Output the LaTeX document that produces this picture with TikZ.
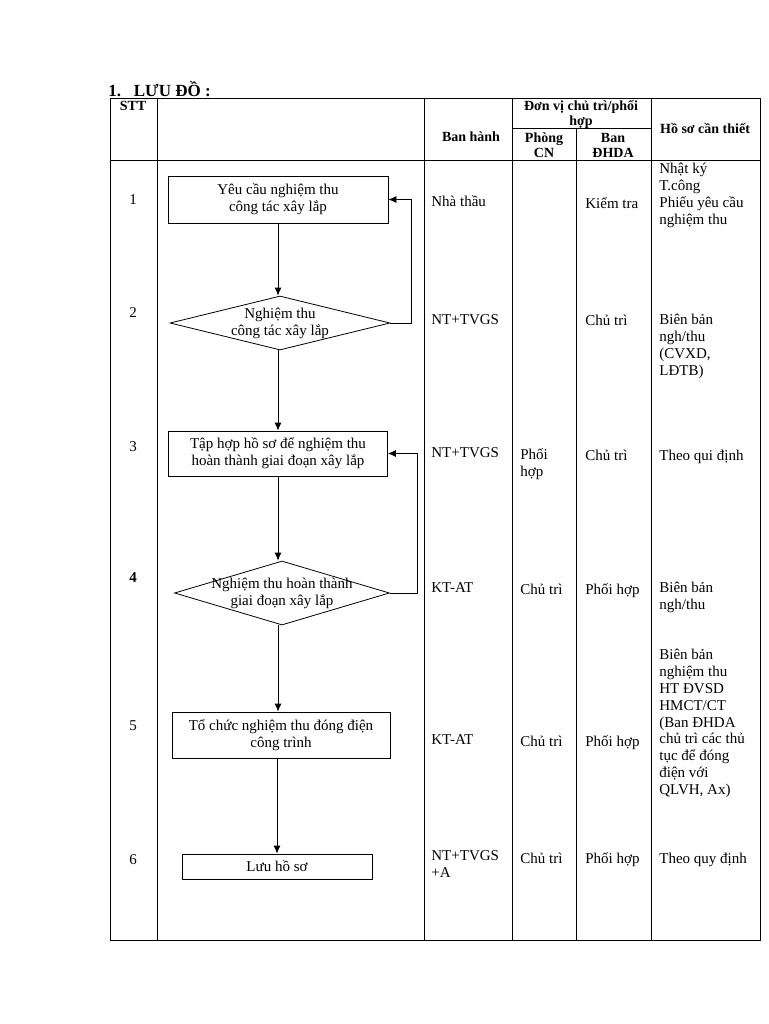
\documentclass[tikz,border=0pt]{standalone}
\usepackage{fontspec}
\setmainfont{Liberation Serif}
\usetikzlibrary{positioning,shapes.geometric,arrows.meta}

\begin{document}
\begin{tikzpicture}[x=1pt, y=-1pt, line width=0.8pt, >={Latex[length=8pt,width=7pt]},
    every node/.style={font=\fontsize{15}{16.8}\selectfont},
    taskbox/.style={draw, rectangle, align=center, inner sep=0pt},
    checkbox/.style={draw, diamond, minimum width=220pt, minimum height=54pt, inner sep=0pt},
    cell/.style={anchor=north west, align=left, inner sep=0pt, execute at begin node={\strut}},
    head/.style={font=\fontsize{14}{15}\selectfont\bfseries, align=center, inner sep=0pt}]

            \useasboundingbox (0,0) rectangle (768,1024);

            % title and table
            \node[head, anchor=west, font=\fontsize{17}{18}\selectfont\bfseries] (title) at (108,89) {1.\ \ \ LƯU ĐỒ :};
            \draw (110,98) rectangle (760,940);
            \draw (157,98) -- (157,940);
            \draw (424,98) -- (424,940);
            \draw (512,98) -- (512,940);
            \draw (651,98) -- (651,940);
            \draw (576,128) -- (576,940);
            \draw (512,128) -- (651,128);
            \draw (110,160) -- (760,160);

            \node[head] (stt) at (133,106) {STT};
            \node[head] (banhanh) at (471,137) {Ban hành};
            \node[head] (donvi) at (581,114.5) {Đơn vị chủ trì/phối\\hợp};
            \node[head] (phong) at (544,145) {Phòng\\CN};
            \node[head] (bandhda) at (613,145) {Ban\\ĐHDA};
            \node[head] (hoso) at (705,128) {Hồ sơ cần thiết};

            \foreach \n/\y in {1/200, 2/313, 3/447, 5/726, 6/860}
                \node (stt\n) at (133,\y) {\n};
            \node[font=\fontsize{15}{16.8}\selectfont\bfseries] (stt4) at (133,578) {4};

            % flow chart
            \node[taskbox, minimum width=220pt, minimum height=47pt] (yeucau) at (278,199.5) {Yêu cầu nghiệm thu\\công tác xây lắp};
            \node[checkbox, label={[align=center]center:Nghiệm thu\\công tác xây lắp}] (ntcongtac) at (280,323) {};
            \node[taskbox, minimum width=219pt, minimum height=45pt] (taphop) at (278,453.5) {Tập hợp hồ sơ để nghiệm thu\\hoàn thành giai đoạn xây lắp};
            \node[checkbox, minimum width=215pt, minimum height=64pt, label={[align=center]center:Nghiệm thu hoàn thành\\giai đoạn xây lắp}] (nthoanthanh) at (282,593) {};
            \node[taskbox, minimum width=218pt, minimum height=46pt] (dongdien) at (281,735) {Tổ chức nghiệm thu đóng điện\\công trình};
            \node[taskbox, minimum width=190pt, minimum height=25pt] (luu) at (277,866.5) {Lưu hồ sơ};

            \draw[->] (yeucau.south) -- (yeucau.south |- ntcongtac.north);
            \draw[->] (yeucau.south |- ntcongtac.south) -- (yeucau.south |- taphop.north);
            \draw[->] (ntcongtac.east) -- ++(21,0) |- (yeucau.east);
            \draw[->] (taphop.south) -- (taphop.south |- nthoanthanh.north);
            \draw[->] (taphop.south |- nthoanthanh.south) -- (taphop.south |- dongdien.north);
            \draw[->] (nthoanthanh.east) -- ++(27,0) |- (taphop.east);
            \draw[->] (dongdien.south -| luu.north) -- (luu.north);

            % Ban hanh
            \node[cell] (bh1) at (431,194) {Nhà thầu};
            \node[cell] (bh2) at (431,312) {NT+TVGS};
            \node[cell] (bh3) at (431,445) {NT+TVGS};
            \node[cell] (bh4) at (431,580) {KT-AT};
            \node[cell] (bh5) at (431,732) {KT-AT};
            \node[cell] (bh6) at (431,850) {NT+TVGS\\+A};

            % Phong CN
            \node[cell] (pcn3) at (520,448) {Phối\\hợp};
            \node[cell] (pcn4) at (520,582) {Chủ trì};
            \node[cell] (pcn5) at (520,734) {Chủ trì};
            \node[cell] (pcn6) at (520,851) {Chủ trì};

            % Ban DHDA
            \node[cell] (ban1) at (585,196) {Kiểm tra};
            \node[cell] (ban2) at (585,313) {Chủ trì};
            \node[cell] (ban3) at (585,448) {Chủ trì};
            \node[cell] (ban4) at (585,582) {Phối hợp};
            \node[cell] (ban5) at (585,734) {Phối hợp};
            \node[cell] (ban6) at (585,851) {Phối hợp};

            % Ho so
            \node[cell] (hs1) at (659,163) {Nhật ký\\T.công\\Phiếu yêu cầu\\nghiệm thu};
            \node[cell] (hs2) at (659,314) {Biên bản\\ngh/thu\\(CVXD,\\LĐTB)};
            \node[cell] (hs3) at (659,448) {Theo qui định};
            \node[cell] (hs4) at (659,582) {Biên bản\\ngh/thu};
            \node[cell] (hs5) at (659,649) {Biên bản\\nghiệm thu\\HT ĐVSD\\HMCT/CT\\(Ban ĐHDA\\chủ trì các thủ\\tục để đóng\\điện với\\QLVH, Ax)};
            \node[cell] (hs6) at (659,851) {Theo quy định};
            \end{tikzpicture}
\end{document}
